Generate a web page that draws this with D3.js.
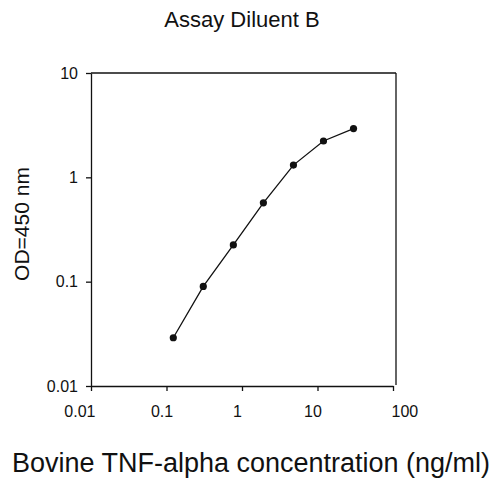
<!DOCTYPE html>
<meta charset='utf-8'>
<style>
body { margin: 0; background: #fff; }
svg { display: block; }
text { font-family: "Liberation Sans", Arial, sans-serif; fill: #111; }
.axis path, .axis line, .frame { stroke: #111; stroke-width: 1.3px; fill: none; }
.curve { fill: none; stroke: #111; stroke-width: 1.3px; }
</style>
<svg width="500" height="486"></svg>
<script src="https://d3js.org/d3.v7.min.js"></script>
<script>
// concentrations (ng/ml) and OD readings
const conc = [0.123, 0.307, 0.768, 1.92, 4.8, 12, 30];
const od = [0.029, 0.09, 0.225, 0.57, 1.31, 2.23, 2.93];
const xTicks = [0.01, 0.1, 1, 10, 100];
const yTicks = [0.01, 0.1, 1, 10];

const svg = d3.select('svg');
const plotL = 91, plotR = 393, plotT = 73, plotB = 386;

const x = d3.scaleLog().domain([0.01, 100]).range([plotL, plotR]);
const y = d3.scaleLog().domain([0.01, 10]).range([plotB, plotT]);
const fmt = d => d < 1 ? String(d) : d3.format('d')(d);

// frame: top and right side
svg.append('line').attr('class', 'frame')
  .attr('x1', plotL).attr('x2', plotR + 3).attr('y1', plotT).attr('y2', plotT);
svg.append('line').attr('class', 'frame')
  .attr('x1', plotR + 3).attr('x2', plotR + 3).attr('y1', plotT).attr('y2', plotB - 1);

const gx = svg.append('g').attr('class', 'axis')
  .attr('transform', `translate(0,${plotB})`)
  .call(d3.axisBottom(x).tickValues(xTicks).tickFormat(fmt).tickSize(5).tickSizeOuter(0));
const last = xTicks.length - 1;
gx.selectAll('text').attr('font-size', 16).attr('y', 20).attr('dy', '0.71em')
  .style('font-family', '"Liberation Sans", Arial, sans-serif')
  // excel-like placement: end labels pushed outward
  .attr('text-anchor', (d, i) => i === 0 ? 'end' : i === last ? 'start' : 'middle')
  .attr('dx', (d, i) => i === 0 ? 4 : i === last ? -2 : -5);

const gy = svg.append('g').attr('class', 'axis')
  .attr('transform', `translate(${plotL},0)`)
  .call(d3.axisLeft(y).tickValues(yTicks).tickFormat(fmt).tickSize(5).tickSizeOuter(0));
gy.selectAll('text').attr('font-size', 16).attr('x', -13)
  .style('font-family', '"Liberation Sans", Arial, sans-serif');

const pts = conc.map((c, i) => [c, od[i]]);

svg.append('path').attr('class', 'curve')
  .attr('d', d3.line().x(d => x(d[0])).y(d => y(d[1]))(pts));

svg.append('g').selectAll('circle').data(pts).join('circle')
  .attr('cx', d => x(d[0])).attr('cy', d => y(d[1])).attr('r', 3.6)
  .attr('fill', '#111');

svg.append('text').attr('x', 242).attr('y', 27).attr('text-anchor', 'middle')
  .attr('font-size', 22).text('Assay Diluent B');

svg.append('text').attr('transform', 'translate(29,224) rotate(-90)')
  .attr('text-anchor', 'middle').attr('font-size', 21).text('OD=450 nm');

svg.append('text').attr('x', 251).attr('y', 472).attr('text-anchor', 'middle')
  .attr('font-size', 27).text('Bovine TNF-alpha concentration (ng/ml)');
</script>
